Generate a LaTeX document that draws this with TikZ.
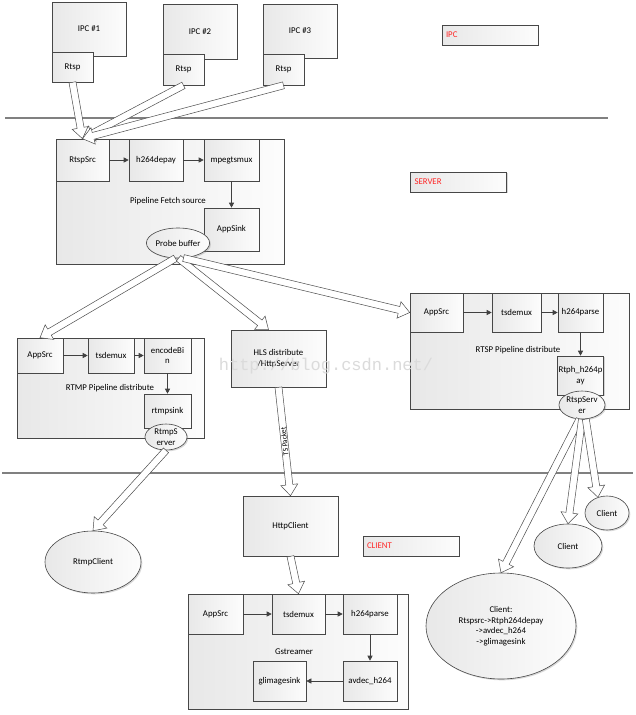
\documentclass[tikz,border=0pt]{standalone}
\usepackage{fontspec}
\setmainfont{Carlito}
\newfontfamily\wmfont{Liberation Mono}
\usetikzlibrary{shapes.geometric,arrows.meta,calc,shadows}
\tikzset{
  base/.style={draw=black!72, line width=0.6pt, left color=black!9, right color=black!1,
    drop shadow={shadow xshift=1.3pt, shadow yshift=-1.3pt, opacity=0.3},
    font=\fontsize{8.8}{10.5}\selectfont, align=center, inner sep=1pt},
  blk/.style={base, rectangle},
  oval/.style={base, ellipse, inner sep=0pt},
  tagbox/.style={base, rectangle, text=red!85, align=left, text width=88pt, inner xsep=4pt, minimum height=20pt},
  link/.style={draw=black!75, line width=0.6pt, -{Triangle[length=5pt,width=5pt]}},
  barr/.style={draw=black!70, line width=0.5pt, fill=white},
  sepline/.style={draw=black!50, line width=1.2pt},
  lbl/.style={font=\fontsize{8.8}{10.5}\selectfont, inner sep=0pt}
}
\newcommand\bx[6]{\node[blk, minimum width=#4pt, minimum height=#5pt] (#1) at (#2,#3) {#6};}
\newcommand\ov[6]{\node[oval, minimum width=#4pt, minimum height=#5pt] (#1) at (#2,#3) {#6};}
% hollow block arrow from #1 to #2
\newcommand\barrow[2]{%
  \path[barr] let \p1=(#1), \p2=(#2),
    \n1={atan2(\y2-\y1,\x2-\x1)}, \n2={veclen(\x2-\x1,\y2-\y1)},
    \n3={\n2-11pt}, \n4={\n1+90}, \n5={\n1-90} in
    ($(\p1)+(\n4:3.5pt)$) -- ($(\p1)+(\n1:\n3)+(\n4:3.5pt)$) --
    ($(\p1)+(\n1:\n3)+(\n4:8.5pt)$) -- (\p2) --
    ($(\p1)+(\n1:\n3)+(\n5:8.5pt)$) -- ($(\p1)+(\n1:\n3)+(\n5:3.5pt)$) --
    ($(\p1)+(\n5:3.5pt)$) -- cycle;}
\begin{document}
\begin{tikzpicture}[x=1pt,y=-1pt]
\useasboundingbox (0,0) rectangle (636,715);
\fill[white] (0,0) rectangle (636,715);

% separators
\coordinate (s1a) at (5,118); \coordinate (s1b) at (608,118);
\draw[sepline] (s1a) -- (s1b);
\coordinate (s2a) at (2,473); \coordinate (s2b) at (633,473);
\draw[sepline] (s2a) -- (s2b);

% tags
\node[tagbox] (ipctag) at (490,35) {IPC};
\node[tagbox] (servertag) at (458.5,182) {SERVER};
\node[tagbox] (clienttag) at (411,546) {CLIENT};

% IPC cameras
\bx{ipc1}{89}{29}{74}{54}{IPC \#1}
\bx{rtsp1}{72.5}{67}{41}{30}{Rtsp}
\bx{ipc2}{200}{31.5}{74}{55}{IPC \#2}
\bx{rtsp2}{183.5}{69.5}{41}{31}{Rtsp}
\bx{ipc3}{300}{31}{74}{54}{IPC \#3}
\bx{rtsp3}{283.5}{69.5}{41}{31}{Rtsp}

% server fetch pipeline
\bx{fetch}{170}{201.5}{228}{125}{}
\bx{rtspsrc}{82.5}{160}{53}{42}{RtspSrc}
\bx{depay}{156}{160}{54}{42}{h264depay}
\bx{mux}{231.5}{160}{55}{42}{mpegtsmux}
\node[lbl] (fetchlbl) at (168,201) {Pipeline Fetch source};
\bx{appsink}{231.5}{229.5}{55}{43}{AppSink}
\ov{probe}{178}{243}{63}{30}{Probe buffer}
\draw[link] (rtspsrc) -- (depay);
\draw[link] (depay) -- (mux);
\draw[link] (mux) -- (appsink);

% RTMP pipeline
\bx{rtmp}{110.5}{388}{187}{100}{}
\bx{apr}{40}{355.5}{46}{35}{AppSrc}
\bx{tdr}{111}{355.5}{46}{35}{tsdemux}
\bx{enc}{167.5}{355.5}{47}{35}{encodeBi\\n}
\node[lbl] (rtmplbl) at (110,388) {RTMP Pipeline distribute};
\bx{rsink}{167.5}{411}{47}{34}{rtmpsink}
\ov{rserver}{166}{437}{42}{26}{RtmpS\\erver}
\draw[link] (apr) -- (tdr);
\draw[link] (tdr) -- (enc);
\draw[link] (enc) -- (rsink);

% HLS
\bx{hls}{278.5}{358.5}{95}{57}{HLS distribute\\/HttpServer}

% RTSP pipeline
\bx{rtspbox}{519.5}{351}{219}{116}{}
\bx{aps}{436.5}{312.5}{53}{39}{AppSrc}
\bx{tds}{516.5}{312.5}{49}{39}{tsdemux}
\bx{hps}{580.5}{312.5}{45}{39}{h264parse}
\node[lbl] (rtsplbl) at (518,350) {RTSP Pipeline distribute};
\bx{rtph}{580.5}{375.5}{45}{39}{Rtph\_h264p\\ay}
\ov{sserver}{582}{405}{46}{28}{RtspServ\\er}
\draw[link] (aps) -- (tds);
\draw[link] (tds) -- (hps);
\draw[link] (hps) -- (rtph);

% client side
\bx{http}{290.5}{526}{95}{60}{HttpClient}
\bx{gst}{298}{651.5}{220}{115}{}
\bx{apg}{215.5}{614}{55}{40}{AppSrc}
\bx{tdg}{298.5}{614}{53}{40}{tsdemux}
\bx{hpg}{370}{614}{54}{40}{h264parse}
\node[lbl] (gstlbl) at (294,652) {Gstreamer};
\bx{glim}{279.5}{681}{53}{40}{glimagesink}
\bx{avdec}{370}{681}{54}{40}{avdec\_h264}
\draw[link] (apg) -- (tdg);
\draw[link] (tdg) -- (hpg);
\draw[link] (hpg) -- (avdec);
\draw[link] (avdec) -- (glim);

\ov{rclient}{93}{562}{96}{62}{RtmpClient}
\ov{client1}{607}{513}{44}{34}{Client}
\ov{client2}{568}{546}{68}{44}{Client}
\ov{client3}{501}{626}{150}{106}{Client:\\Rtspsrc->Rtph264depay\\->avdec\_h264\\->glimagesink}

% block arrows
\barrow{rtsp1.south}{rtspsrc.north}
\barrow{rtsp2.south}{rtspsrc.north}
\barrow{rtsp3.south}{rtspsrc.north}
\coordinate (hlstip) at ($(hls.north)+(-10,0)$);
\barrow{probe.260}{apr.north}
\barrow{probe.272}{hlstip}
\barrow{probe.290}{aps.west}
\barrow{rserver.south}{rclient.north}
\barrow{hls.south}{http.north}
\barrow{http.south}{tdg.north}
\barrow{sserver.260}{client3.north}
\barrow{sserver.270}{client2.north}
\barrow{sserver.285}{client1.120}
\path let \p1=(hls.south), \p2=(http.north), \n1={atan2(\y2-\y1,\x2-\x1)+180} in
  ($(\p1)!0.5!(\p2)$) node[lbl, font=\fontsize{7.5}{8}\selectfont, rotate=\n1] (tslbl) {TS Packet};

% watermark
\node[text=black!14, font=\wmfont\fontsize{17}{17}\selectfont, inner sep=0pt] (wm) at (326,366) {http://blog.csdn.net/};
\end{tikzpicture}
\end{document}
